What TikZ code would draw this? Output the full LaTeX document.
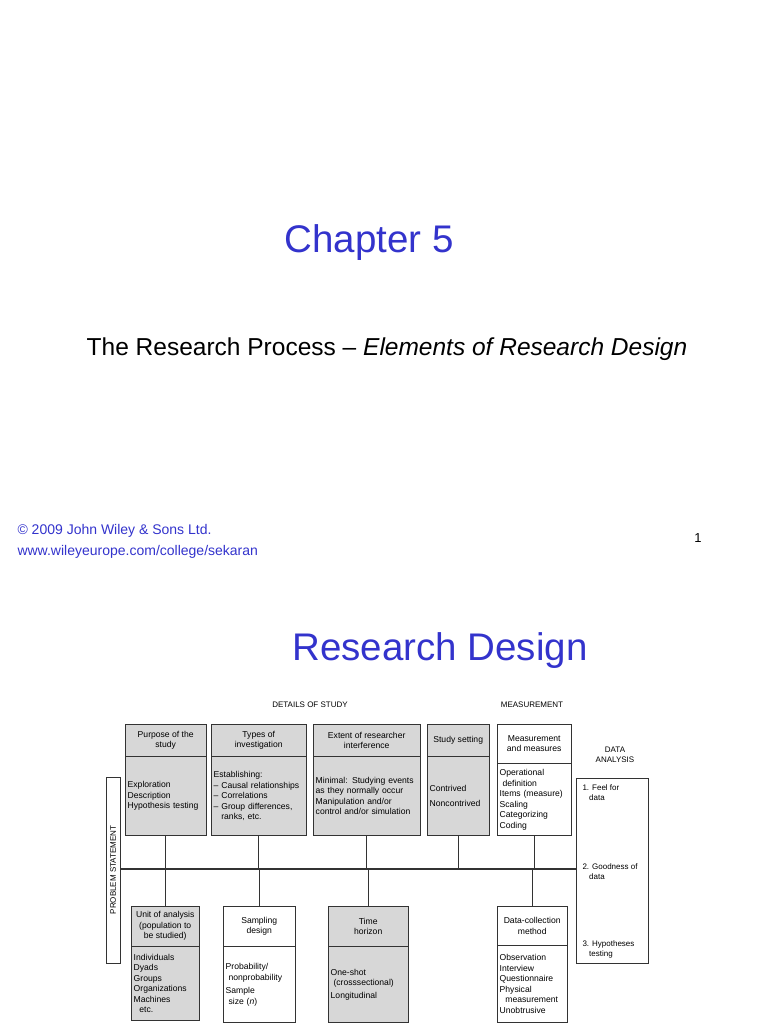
\documentclass[tikz,border=0pt]{standalone}
\usepackage{fontspec}
\setmainfont{Liberation Sans}
\usetikzlibrary{positioning}
\definecolor{slideblue}{RGB}{51,51,204}
\definecolor{boxgray}{RGB}{215,215,215}
\tikzset{
  hdr/.style={draw=black!80, minimum height=#1, inner sep=1pt, align=center,
    font=\fontsize{8.6}{10.5}\selectfont, anchor=north west},
  bdy/.style={draw=black!80, inner sep=2pt, align=left,
    font=\fontsize{8.6}{10.5}\selectfont, anchor=north west},
  lbl/.style={font=\fontsize{8}{10}\selectfont, align=center},
  link/.style={draw=black!80, line width=1.3pt}
}
\newcommand{\elembox}[9]{% name, x, y, w, header h, body h, fill, header, body
  \node[hdr=#5, minimum width=#4, fill=#7] (#1h) at (#2,#3) {#8};
  \node[bdy, minimum width=#4, minimum height=#6, fill=#7, text width=#4-5pt]
    (#1b) at (#1h.south west) {#9};
}
\begin{document}
\begin{tikzpicture}[x=1pt,y=-1pt]
  \useasboundingbox (0,0) rectangle (768,1024);
  % slide 1
  \node[text=slideblue, font=\fontsize{38.5}{42}\selectfont] (chap) at (369,243) {Chapter 5};
  \node[font=\fontsize{24.5}{28}\selectfont] (sub) at (387,349)
    {The Research Process -- \textit{Elements of Research Design}};
  \node[text=slideblue, font=\fontsize{14}{21}\selectfont, anchor=west, align=left] (copy) at (14,541)
    {© 2009 John Wiley \& Sons Ltd.\\www.wileyeurope.com/college/sekaran};
  \node[font=\fontsize{13}{16}\selectfont] (pg) at (698,538) {1};
  % slide 2
  \node[text=slideblue, font=\fontsize{38.5}{42}\selectfont] (title) at (440,651) {Research Design};
  \node[lbl] (det) at (310,705) {DETAILS OF STUDY};
  \node[lbl] (meas) at (532,705) {MEASUREMENT};
  \node[lbl] (dal) at (615,755) {DATA\\ANALYSIS};

  % upper boxes
  \elembox{pur}{125}{724}{81pt}{32pt}{79pt}{boxgray}{Purpose of the\\study}
    {Exploration\\Description\\Hypothesis testing}
  \elembox{typ}{211}{724}{95pt}{32pt}{79pt}{boxgray}{Types of\\investigation}
    {Establishing:\\-- Causal relationships\\-- Correlations\\-- Group differences,\\\phantom{-- }ranks, etc.}
  \elembox{ext}{313}{724}{107pt}{32pt}{79pt}{boxgray}{Extent of researcher\\interference}
    {Minimal: Studying events\\as they normally occur\\Manipulation and/or\\control and/or simulation}
  \elembox{set}{427}{724}{62pt}{32pt}{79pt}{boxgray}{Study setting}
    {Contrived\\[4pt]Noncontrived}
  \elembox{mea}{497}{724}{74pt}{39pt}{72pt}{white}{Measurement\\and measures}
    {Operational\\\ definition\\Items (measure)\\Scaling\\Categorizing\\Coding}

  % lower boxes
  \elembox{uni}{131}{906}{68pt}{40pt}{74pt}{boxgray}{Unit of analysis\\(population to\\be studied)}
    {Individuals\\Dyads\\Groups\\Organizations\\Machines\\\ \ etc.}
  \elembox{sam}{223}{906}{72pt}{40pt}{76pt}{white}{Sampling\\design}
    {Probability/\\\ nonprobability\\[3pt]Sample\\\ size (\textit{n})\\[24pt]}
  \elembox{tim}{328}{906}{80pt}{40pt}{76pt}{boxgray}{Time\\horizon}
    {One-shot\\\ (crosssectional)\\[2pt]Longitudinal\\[28pt]}
  \elembox{col}{497}{906}{70pt}{39pt}{77pt}{white}{Data-collection\\method}
    {Observation\\Interview\\Questionnaire\\Physical\\\ \ measurement\\Unobtrusive}

  % side boxes
  \node[draw=black!80, minimum width=186pt, minimum height=14pt, rotate=90, inner sep=0pt,
    font=\fontsize{8}{9}\selectfont] (prob) at (113,870) {PROBLEM STATEMENT};
  \node[draw=black!80, minimum width=72pt, minimum height=185pt, anchor=north west] (dat) at (576,778) {};
  \node[lbl, anchor=north west, align=left] (d1) at (579,781) {1. Feel for\\\ \ \ data};
  \node[lbl, anchor=north west, align=left] (d2) at (579,860) {2. Goodness of\\\ \ \ data};
  \node[lbl, anchor=north west, align=left] (d3) at (579,937) {3. Hypotheses\\\ \ \ testing};

  % connectors
  \coordinate (bus) at (prob.south |- 0,869);
  \draw[link] (prob.south |- bus) -- (dat.west |- bus);
  \foreach \b in {pur,typ,ext,set,mea}
    \draw[link] (\b b.south) -- (\b b.south |- bus);
  \foreach \b in {uni,sam,tim,col}
    \draw[link] (\b h.north) -- (\b h.north |- bus);
\end{tikzpicture}
\end{document}
